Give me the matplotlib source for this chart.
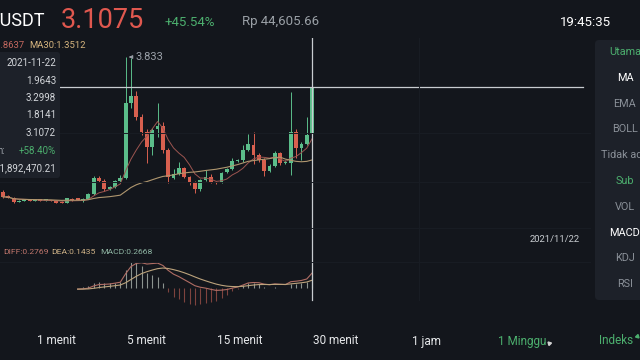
import matplotlib
matplotlib.use('Agg')
import matplotlib.pyplot as plt
from matplotlib.patches import FancyBboxPatch
import numpy as np
import pandas as pd

plt.rcParams['font.family'] = ['Roboto', 'DejaVu Sans']

# weekly candles (open, close, high, low)
opens = [.57, .47, .42, .33, .36, .37, .36, .37, .36, .37, .36, .33, .30, .40, .41, .34, .40, .52, .91, .83,
         .64, .69, .83, .91, 2.72, 2.89, 2.38, 2.02, 1.66, 2.09, 2.16, 1.58, .91, 1.00, 1.15, .93, .81, .64, .86, .93,
         .81, .81, 1.05, 1.12, 1.32, 1.34, 1.58, 1.70, 1.46, 1.34, 1.07, 1.19, 1.51, 1.27, 1.27, 2.02, 1.63, 1.73, 1.9643]
closes = [.45, .43, .33, .36, .37, .36, .37, .36, .37, .35, .31, .30, .41, .37, .38, .40, .52, .91, .83, .64,
          .69, .83, .91, 2.72, 2.89, 2.38, 2.02, 1.66, 2.07, 2.16, 1.58, .93, 1.00, 1.15, .93, .81, .64, .86, .93, .81,
          .78, 1.03, 1.12, 1.32, 1.33, 1.58, 1.73, 1.46, 1.34, 1.07, 1.19, 1.51, 1.27, 1.29, 2.02, 1.63, 1.73, 1.95, 3.1072]
highs = [.62, .49, .44, .37, .38, .38, .38, .38, .38, .38, .37, .34, .42, .42, .42, .41, .54, .95, .96, .87,
         .72, .85, .98, 3.833, 3.80, 3.00, 2.45, 2.10, 2.12, 2.72, 2.25, 1.62, 1.12, 1.30, 1.18, .96, .84, .88, 1.10, 1.00,
         .84, 1.05, 1.15, 1.40, 1.36, 1.70, 1.98, 2.02, 1.50, 1.38, 1.24, 1.55, 1.54, 1.33, 2.99, 2.10, 1.78, 2.38, 3.2998]
lows = [.42, .41, .30, .32, .35, .35, .35, .35, .35, .34, .30, .29, .29, .36, .37, .33, .39, .50, .80, .58,
        .62, .67, .81, .88, 2.60, 2.30, 1.95, 1.27, 1.45, 1.90, 1.50, .78, .88, .97, .90, .74, .55, .60, .84, .79,
        .75, .79, 1.02, 1.10, 1.28, 1.30, 1.55, 1.25, 1.30, .95, 1.04, 1.16, 1.22, 1.24, .98, 1.40, 1.35, 1.70, 1.8141]

ma_labels = ['MA7:1.8637', 'MA30:1.3512']
macd_labels = ['DIFF:0.2769', 'DEA:0.1435', 'MACD:0.2668']
info_rows = ['2021-11-22', '1.9643', '3.2998', '1.8141', '3.1072', '+58.40%', '71,892,470.21']
periods = ['1 menit', '5 menit', '15 menit', '30 menit', '1 jam', '1 Minggu', 'Indeks']
menu = ['Utama', 'MA', 'EMA', 'BOLL', 'Tidak ada', 'Sub', 'VOL', 'MACD', 'KDJ', 'RSI']

BG = '#13161c'
UP = '#5bbd8a'
DOWN = '#d8604f'
GREEN_TXT = '#4caf6e'

df = pd.DataFrame({'o': opens, 'c': closes, 'h': highs, 'l': lows})
n = len(df)
idx = np.arange(n)
ma7 = df.c.rolling(7, min_periods=1).mean()
ma30 = df.c.rolling(30, min_periods=1).mean()
ema12 = df.c.ewm(span=12, adjust=False).mean()
ema26 = df.c.ewm(span=26, adjust=False).mean()
diff = ema12 - ema26
dea = diff.ewm(span=9, adjust=False).mean()
hist = 2 * (diff - dea)
macd_start = 14  # indicator not drawn for the first weeks in the app

W, H = 640, 360
fig = plt.figure(figsize=(6.4, 3.6), dpi=100, facecolor=BG)

def box(x0, y0, x1, y1):
    return [x0 / W, 1 - y1 / H, (x1 - x0) / W, (y1 - y0) / H]

step = 5.33
xl = (-3 / step, (590 - 3) / step)

# price panel
ax = fig.add_axes(box(0, 38, 590, 240))
ax.set_facecolor(BG)
ax.set_xlim(*xl)
ax.set_ylim(-0.596, 4.293)
ax.axis('off')
cols = [UP if c >= o else DOWN for o, c in zip(df.o, df.c)]
ax.vlines(idx, df.l, df.h, colors=cols, lw=0.7, zorder=2)
body = np.maximum((df.c - df.o).abs(), 0.03)
ax.bar(idx, body, bottom=np.minimum(df.o, df.c), width=0.72, color=cols, zorder=3)
ax.plot(idx, ma7, color='#9c5550', lw=0.7, zorder=4)
ax.plot(idx, ma30, color='#b0976f', lw=0.8, zorder=4)
top = df.h.idxmax()
ax.annotate('', xy=(top + 0.1, df.h[top]), xytext=(top + 1.5, df.h[top]),
            arrowprops=dict(arrowstyle='-|>', color='#9aa0a8', lw=0.7, mutation_scale=5))
ax.text(top + 1.9, df.h[top], f'{df.h[top]:.3f}', color='#9aa0a8', fontsize=8, va='center')
ax.axhline(df.c.iloc[-1], xmin=0, xmax=583 / 590, color='#c8ccd0', lw=0.9, zorder=5)
ax.axvline(n - 1, color='#c8ccd0', lw=0.9, zorder=5)

# macd panel
mx = fig.add_axes(box(0, 240, 590, 310))
mx.set_facecolor('none')
mx.set_xlim(*xl)
mx.set_ylim(-0.41, 0.89)
mx.axis('off')
sub = idx >= macd_start
hcol = ['#8b938f' if v >= 0 else '#7e433e' for v in hist[sub]]
mx.vlines(idx[sub], 0, hist[sub], colors=hcol, lw=0.8)
mx.plot(idx[sub], diff[sub], color='#b06d64', lw=0.8)
mx.plot(idx[sub], dea[sub], color='#bca37c', lw=0.8)
mx.axvline(n - 1, ymin=10 / 70, color='#c8ccd0', lw=0.9)

# overlay in pixel coordinates
ui = fig.add_axes([0, 0, 1, 1], facecolor='none')
ui.set_xlim(0, W)
ui.set_ylim(H, 0)
ui.axis('off')
for gy in [133, 182, 228, 262]:
    ui.plot([0, 590], [gy, gy], color='#191d24', lw=0.7, zorder=0)
ui.plot([419, 419], [38, 300], color='#191d24', lw=0.7, zorder=0)

ui.text(45, 21, 'TUSDT', color='white', fontsize=13, ha='right', va='center')
ui.text(61, 21, '3.1075', color='#e0584f', fontsize=19.5, va='center')
ui.text(165, 22, '+45.54%', color=GREEN_TXT, fontsize=9.5, va='center')
ui.text(242, 22, 'Rp 44,605.66', color='#9aa0a6', fontsize=9.5, va='center')
ui.text(560, 22, '19:45:35', color='white', fontsize=9.5, va='center')

ui.text(25, 45, ma_labels[0], color='#c4685f', fontsize=6.8, va='center', ha='right')
ui.text(29, 45, ma_labels[1], color='#d5b47e', fontsize=6.8, va='center')

ui.add_patch(FancyBboxPatch((-10, 52), 70, 126, boxstyle='round,pad=0,rounding_size=3',
                            fc='#1d2129', ec='none', zorder=6))
for k, row in enumerate(info_rows):
    c = GREEN_TXT if row.startswith('+') else '#d4d7db'
    ui.text(56, 63 + k * 17.5, row, color=c, fontsize=7, ha='right', va='center', zorder=7)
ui.text(-3, 63 + 5 * 17.5, 'n:', color='#9aa0a6', fontsize=7, va='center', zorder=7)

ui.text(580, 239, '2021/11/22', color='#c8ccd0', fontsize=6.8, ha='right', va='center')

for xpos, lab, c in zip([3, 51, 100], macd_labels, ['#c0766c', '#cfb287', '#8fb5a3']):
    ui.text(xpos, 252, lab, color=c, fontsize=6.1, va='center')

ui.add_patch(FancyBboxPatch((595, 40), 60, 260, boxstyle='round,pad=0,rounding_size=4',
                            fc='#1d2129', ec='none', zorder=6))
for k, m in enumerate(menu):
    if m in ('Utama', 'Sub'):
        c = GREEN_TXT
    elif m in ('MA', 'MACD'):
        c = 'white'
    else:
        c = '#8a9098'
    ui.text(625, 52 + k * 25.8, m, color=c, fontsize=7.8, ha='center', va='center', zorder=7)

px = [56, 146, 240, 336, 427, 522, 616]
for p, lab in zip(px, periods):
    c = GREEN_TXT if lab in ('1 Minggu', 'Indeks') else '#e6e8ea'
    ui.text(p, 341, lab, color=c, fontsize=8.5, ha='center', va='center')
ui.plot([549], [343], marker=(3, 0, 45), color='#d0d0d0', ms=3)
ui.plot([637], [336], marker=(3, 0, 180 + 45), color=GREEN_TXT, ms=3)

fig.savefig('out.png', dpi=100, facecolor=BG)
